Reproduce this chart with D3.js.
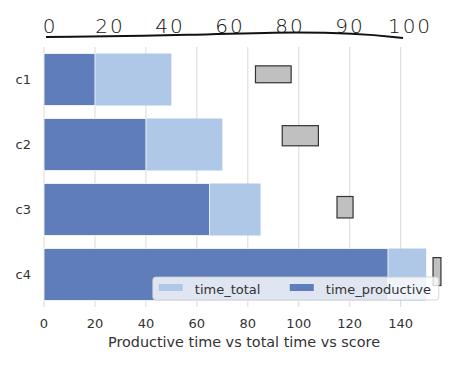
<!DOCTYPE html>
<meta charset="utf-8">
<head>
  <script src="https://d3js.org/d3.v7.min.js"></script>
  <style>
    body { margin: 0; background: #fff; font-family: 'DejaVu Sans', sans-serif; }
  </style>
</head>
<div id="my_dataviz"></div>
<script>
  // data
  var categories = ["c1", "c2", "c3", "c4"];
  var timeTotal = [50, 70, 85, 150];
  var timeProductive = [20, 40, 65, 135];
  // score boxes: x range in data units, vertical range in row units
  var scoreLo = [83, 93.5, 115, 152.7];
  var scoreHi = [97, 107.7, 121.3, 155.8];
  var scoreRowLo = [-0.21, 0.71, 1.80, 2.74];
  var scoreRowHi = [0.05, 1.02, 2.13, 3.17];
  var xTicks = [0, 20, 40, 60, 80, 100, 120, 140];
  var handLabels = ["0", "20", "40", "60", "80", "90", "100"];

  var W = 474, H = 374;
  var margin = { top: 47, right: 30, bottom: 67, left: 44 };
  var width = W - margin.left - margin.right,
      height = H - margin.top - margin.bottom;

  var root = d3.select("#my_dataviz")
    .append("svg")
    .attr("width", W)
    .attr("height", H);

  var svg = root.append("g")
    .attr("transform", "translate(" + margin.left + "," + margin.top + ")");

  var x = d3.scaleLinear().domain([0, 157]).range([0, width]);
  var y = d3.scaleBand().domain(categories).range([0, height])
    .paddingInner(0.2).paddingOuter(0.1);
  var yRow = d3.scaleLinear().domain([-0.5, categories.length - 0.5]).range([0, height]);

  // grid
  svg.selectAll(".grid").data(xTicks).enter().append("line")
    .attr("x1", function (d) { return x(d); })
    .attr("x2", function (d) { return x(d); })
    .attr("y1", 0).attr("y2", height)
    .attr("stroke", "#d9d9d9").attr("stroke-width", 1);

  // total bars
  svg.selectAll(".tot").data(categories).enter().append("rect")
    .attr("x", x(0))
    .attr("y", function (d) { return y(d); })
    .attr("width", function (d, i) { return x(timeTotal[i]) - x(0); })
    .attr("height", y.bandwidth())
    .attr("fill", "#b0c8e8");

  // productive bars
  svg.selectAll(".prod").data(categories).enter().append("rect")
    .attr("x", x(0))
    .attr("y", function (d) { return y(d); })
    .attr("width", function (d, i) { return x(timeProductive[i]) - x(0); })
    .attr("height", y.bandwidth())
    .attr("fill", "#5e7dba")
    .attr("stroke", "#fff").attr("stroke-width", 0.8);

  // score boxes
  svg.selectAll(".score").data(categories).enter().append("rect")
    .attr("x", function (d, i) { return x(scoreLo[i]); })
    .attr("y", function (d, i) { return yRow(scoreRowLo[i]); })
    .attr("width", function (d, i) { return x(scoreHi[i]) - x(scoreLo[i]); })
    .attr("height", function (d, i) { return yRow(scoreRowHi[i]) - yRow(scoreRowLo[i]); })
    .attr("fill", "#c0c0c0")
    .attr("stroke", "#333").attr("stroke-width", 1.2);

  // x axis labels
  svg.selectAll(".xt").data(xTicks).enter().append("text")
    .attr("x", function (d) { return x(d); })
    .attr("y", height + 21)
    .attr("text-anchor", "middle")
    .attr("font-size", 13)
    .attr("fill", "#333")
    .text(function (d) { return d; });

  svg.append("text")
    .attr("x", width / 2)
    .attr("y", height + 40)
    .attr("text-anchor", "middle")
    .attr("font-size", 14.4)
    .attr("fill", "#333")
    .text("Productive time vs total time vs score");

  // y labels
  svg.selectAll(".yt").data(categories).enter().append("text")
    .attr("x", -13)
    .attr("y", function (d) { return y(d) + y.bandwidth() / 2; })
    .attr("dy", "0.35em")
    .attr("text-anchor", "end")
    .attr("font-size", 13)
    .attr("fill", "#333")
    .text(function (d) { return d; });

  // legend
  var lg = svg.append("g").attr("transform", "translate(" + (x(42.7)) + "," + (height - 30) + ")");
  lg.append("rect")
    .attr("width", 286).attr("height", 23).attr("rx", 3)
    .attr("fill", "#fff").attr("fill-opacity", 0.8)
    .attr("stroke", "#ccc").attr("stroke-width", 0.8);
  var legItems = [
    { name: "time_total", color: "#b0c8e8", dx: 6 },
    { name: "time_productive", color: "#5e7dba", dx: 137 }
  ];
  legItems.forEach(function (it) {
    lg.append("rect").attr("x", it.dx).attr("y", 7).attr("width", 24).attr("height", 7)
      .attr("fill", it.color);
    lg.append("text").attr("x", it.dx + 36).attr("y", 16.5)
      .attr("font-size", 13).attr("fill", "#333").text(it.name);
  });

  // handwritten scale on top
  var hand = d3.scalePoint().domain(handLabels).range([50, 410]);
  root.selectAll(".hand").data(handLabels).enter().append("text")
    .attr("x", function (d) { return hand(d); })
    .attr("y", 33)
    .attr("text-anchor", "middle")
    .attr("font-size", 20)
    .attr("font-family", "'DejaVu Sans', sans-serif")
    .attr("font-weight", 200)
    .attr("letter-spacing", 2)
    .attr("fill", "#111")
    .text(function (d) { return d; });

  var x0 = hand(handLabels[0]) - 4, x1 = hand(handLabels[handLabels.length - 1]) - 7;
  root.append("path")
    .attr("d", d3.line().curve(d3.curveBasis)([[x0, 37], [(x0 + x1) * 0.45, 35], [(x0 + x1) * 0.6, 32], [(x0 + x1) * 0.8, 33], [x1, 38]]))
    .attr("fill", "none")
    .attr("stroke", "#111")
    .attr("stroke-width", 2);
</script>
